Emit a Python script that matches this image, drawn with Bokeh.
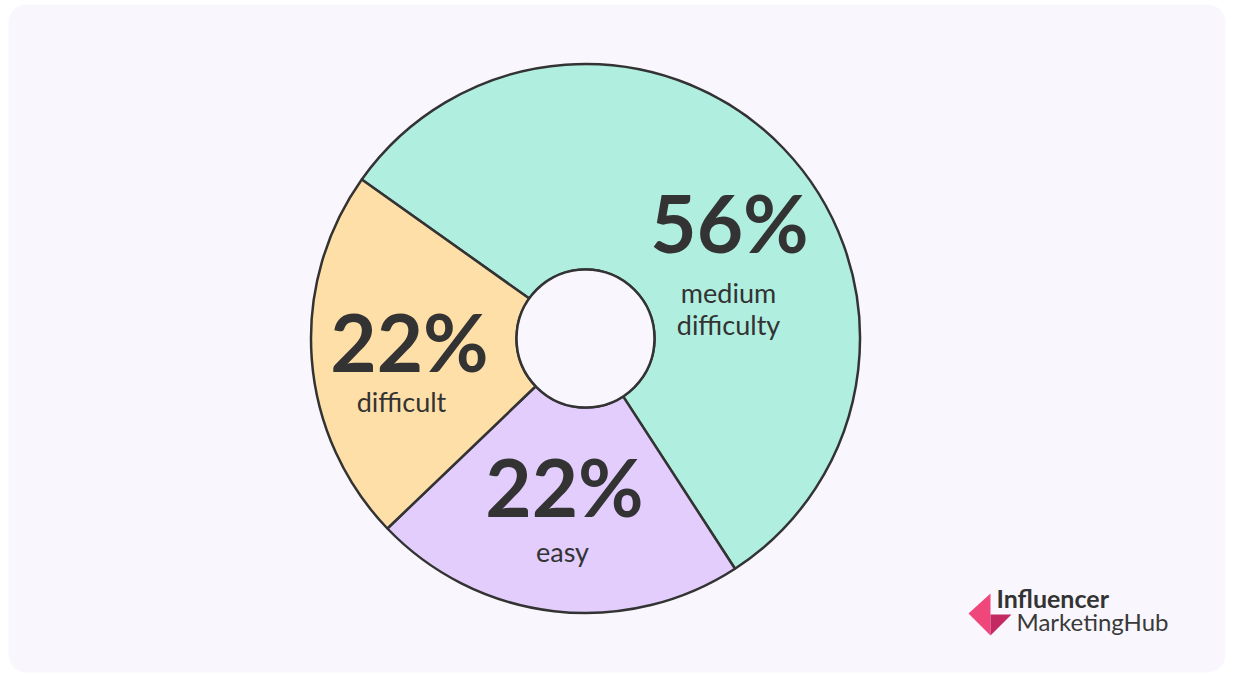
import numpy as np
from bokeh.plotting import figure
from bokeh.models import Range1d
from bokeh.core.properties import value
from bokeh.embed import file_html
from bokeh.resources import INLINE

# ---- data ----
categories = ["medium difficulty", "easy", "difficult"]
shares = [56, 22, 22]
pct_labels = ["56%", "22%", "22%"]
name_lines = [["medium", "difficulty"], ["easy"], ["difficult"]]
fills = ["#b0eedf", "#e2cdfd", "#ffdfa8"]

# ---- layout (pixel space, y measured from the top) ----
W, H = 1233, 677
CX, CY = 585, 338
R_OUT, R_IN = 274.5, 69
START_DEG = 144.6          # where the first slice begins, going clockwise
pct_pos = [(729, 253), (409, 372), (564, 517)]
pct_pos = [pct_pos[0], pct_pos[2], pct_pos[1]]
name_pos = [[(728, 303), (728, 335)], [(562, 562)], [(401, 412)]]

INK = "#333333"
CARD = "#f9f7fd"
FONT = "Lato"
BIG, SMALL, LOGO = 80, 27, 24
SHIFT = 0.39               # baseline correction, as a fraction of font size


def Y(y, size=0):
    return H - (y - SHIFT * size)


p = figure(width=W, height=H, x_range=Range1d(0, W), y_range=Range1d(0, H),
           output_backend="svg", toolbar_location=None, min_border=0)
p.axis.visible = False
p.grid.visible = False
p.outline_line_color = None
p.background_fill_color = "#ffffff"
p.border_fill_color = "#ffffff"

# rounded card behind everything
def rounded_rect(x0, y0, x1, y1, r, n=12):
    xs, ys = [], []
    corners = [(x1 - r, y0 + r, -90, 0), (x1 - r, y1 - r, 0, 90),
               (x0 + r, y1 - r, 90, 180), (x0 + r, y0 + r, 180, 270)]
    for cx, cy, a0, a1 in corners:
        t = np.radians(np.linspace(a0, a1, n))
        xs.extend(cx + r * np.cos(t))
        ys.extend(cy + r * np.sin(t))
    return xs, ys

cx_, cy_ = rounded_rect(8, Y(672), 1225, Y(4), 18)
p.patch(cx_, cy_, fill_color=CARD, line_color=None)

# donut slices
total = float(sum(shares))
ends = START_DEG - 360.0 * np.cumsum(shares) / total
starts = np.concatenate([[START_DEG], ends[:-1]])
p.annular_wedge(x=[CX] * len(shares), y=[Y(CY)] * len(shares),
                inner_radius=R_IN, outer_radius=R_OUT,
                start_angle=np.radians(starts), end_angle=np.radians(ends),
                direction="clock", fill_color=fills,
                line_color=INK, line_width=2.5)
p.circle(x=[CX], y=[Y(CY)], radius=R_IN, fill_color=CARD,
         line_color=INK, line_width=2.5)

# slice labels
p.text(x=[q[0] for q in pct_pos], y=[Y(q[1], BIG) for q in pct_pos], text=pct_labels,
       text_font=value(FONT), text_font_style="bold", text_font_size=f"{BIG}px",
       text_color=INK, text_align="center", text_baseline="alphabetic")
nx, ny, nt = [], [], []
for lines, poss in zip(name_lines, name_pos):
    for t, (x, y) in zip(lines, poss):
        nx.append(x); ny.append(Y(y, SMALL)); nt.append(t)
p.text(x=nx, y=ny, text=nt, text_font=value(FONT), text_font_size=f"{SMALL}px",
       text_color=INK, text_align="center", text_baseline="alphabetic")

# brand mark
p.patch([968, 990, 990], [Y(613), Y(593), Y(635)], fill_color="#ef477b", line_color=None)
p.patch([990, 1011, 990], [Y(614), Y(614), Y(635)], fill_color="#c42a62", line_color=None)
p.text(x=[996], y=[Y(607, LOGO)], text=["Influencer"], text_font=value(FONT),
       text_font_style="bold", text_font_size=f"{LOGO + 1}px", text_color=INK,
       text_align="left", text_baseline="alphabetic")
p.text(x=[1016], y=[Y(630, LOGO)], text=["MarketingHub"], text_font=value(FONT),
       text_font_size=f"{LOGO}px", text_color="#3a3a3a",
       text_align="left", text_baseline="alphabetic")

open("out.html", "w").write(file_html(p, INLINE))
